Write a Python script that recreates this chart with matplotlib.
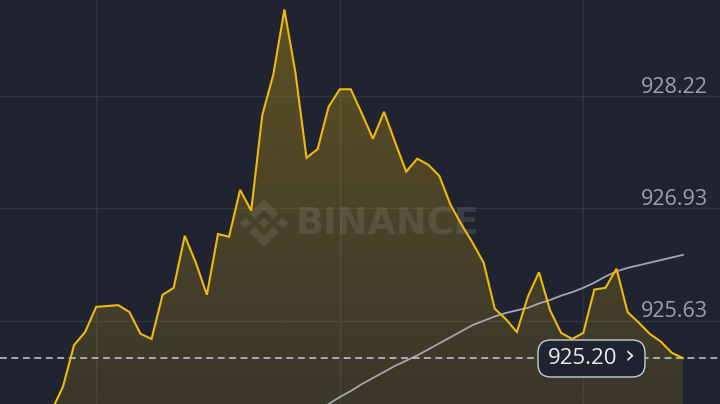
import numpy as np
import matplotlib
matplotlib.use("Agg")
from matplotlib import pyplot as plt
from matplotlib.patches import Polygon, FancyBboxPatch

# price series (one point per time step)
price = [
    924.60, 924.87, 925.35, 925.50, 925.79, 925.80, 925.81, 925.73, 925.48, 925.42,
    925.93, 926.01, 926.61, 926.30, 925.93, 926.63, 926.60, 927.14, 926.90, 928.00,
    928.47, 929.22, 928.49, 927.51, 927.61, 928.10, 928.30, 928.30, 928.02, 927.73,
    928.04, 927.69, 927.35, 927.50, 927.43, 927.30, 926.97, 926.74, 926.53, 926.30,
    925.77, 925.65, 925.50, 925.91, 926.19, 925.75, 925.49, 925.42, 925.49, 925.99,
    926.01, 926.23, 925.73, 925.61, 925.48, 925.39, 925.26, 925.20,
]
# moving average, starts at step 24
ma_start = 24
ma = [
    924.60, 924.67, 924.75, 924.82, 924.90, 924.97, 925.04, 925.11, 925.17, 925.23,
    925.30, 925.37, 925.44, 925.51, 925.58, 925.63, 925.68, 925.72, 925.75, 925.78,
    925.83, 925.87, 925.92, 925.96, 926.01, 926.07, 926.14, 926.20, 926.24, 926.27,
    926.30, 926.33, 926.36, 926.39,
]
y_ticks = [928.22, 926.93, 925.63]
x_grid = [4, 26, 48]
last_price = 925.20

BG = "#1f2430"
YELLOW = "#f0b90b"
GRID = "#2e3441"

W, H = 720, 404
fig = plt.figure(figsize=(W / 100, H / 100), dpi=100, facecolor=BG)
ax = fig.add_axes([0, 0, 1, 1])
ax.set_facecolor(BG)

x = np.arange(len(price))
y = np.array(price)
ymin, ymax = 924.67, 929.33

# grid
for v in y_ticks:
    ax.axhline(v, color=GRID, lw=1.0, zorder=1)
for g in x_grid:
    ax.axvline(g, color=GRID, lw=1.0, zorder=1)

# gradient fill under the price line
verts = [(x[0], ymin - 1)] + list(zip(x, y)) + [(x[-1], ymin - 1)]
clip = Polygon(verts, closed=True, facecolor="none", edgecolor="none")
ax.add_patch(clip)
rgba = np.zeros((256, 1, 4))
rgba[..., 0] = 0xf0 / 255
rgba[..., 1] = 0xb9 / 255
rgba[..., 2] = 0x0b / 255
rgba[..., 3] = np.linspace(0.30, 0.13, 256).reshape(-1, 1)
im = ax.imshow(rgba, extent=[x[0], x[-1], ymin, y.max()], origin="upper",
               aspect="auto", zorder=2, interpolation="bilinear")
im.set_clip_path(clip)
ax.set_xlim(-4.69, 60.35)
ax.set_ylim(ymin, ymax)

# watermark (pixel coords -> axes fraction)
def px(xp, yp):
    return xp / W, 1 - yp / H

logo_parts = [
    [(38.73, 53.2), (63.3, 28.63), (87.89, 53.22), (102.19, 38.92), (63.3, 0), (24.42, 38.9)],
    [(0, 63.31), (14.3, 49.01), (28.6, 63.31), (14.3, 77.61)],
    [(38.73, 73.41), (63.3, 97.99), (87.89, 73.4), (102.19, 87.69), (63.3, 126.61), (24.42, 87.71)],
    [(98.01, 63.31), (112.31, 49.01), (126.61, 63.31), (112.31, 77.61)],
    [(63.3, 48.76), (77.83, 63.3), (63.3, 77.83), (48.76, 63.3)],
]
s = 48 / 126.61
for part in logo_parts:
    pts = [px(240 + a * s, 199 + b * s) for a, b in part]
    ax.add_patch(Polygon(pts, closed=True, transform=ax.transAxes,
                         facecolor="#9a9a90", alpha=0.2, edgecolor="none", zorder=3))
ax.text(*px(296, 224), "BINANCE", transform=ax.transAxes, ha="left", va="center",
        fontsize=26.5, fontweight="bold", color="#9a9a90", alpha=0.2,
        family="DejaVu Sans", zorder=3)

# lines
ax.plot(x, y, color=YELLOW, lw=1.5, zorder=5, solid_joinstyle="miter")
ax.plot(np.arange(ma_start, ma_start + len(ma)), ma, color="#a3a7ae", lw=1.3, zorder=4)

# last price dashed line
ax.axhline(last_price, color="#c9ccd1", lw=1.1, ls=(0, (4.5, 3)), zorder=4)

# right side labels
for v in y_ticks:
    ax.annotate(f"{v:.2f}", xy=(1, v), xycoords=("axes fraction", "data"),
                xytext=(-8.6, 2.5), textcoords="offset points", ha="right",
                va="baseline", fontsize=15.5, color="#9ca1aa", family="Open Sans",
                zorder=6)

# last price tag
box = FancyBboxPatch(px(538, 377), 107 / W, 37 / H, transform=ax.transAxes,
                     boxstyle="round,pad=0,rounding_size=0.018",
                     facecolor=BG, edgecolor="#c9ccd1", lw=1.0, zorder=7,
                     mutation_aspect=W / H)
ax.add_patch(box)
ax.text(*px(548, 359), f"{last_price:.2f}", transform=ax.transAxes, ha="left",
        va="center", fontsize=16, color="#eaecef", family="Open Sans", zorder=8)
ax.text(*px(630, 357), "\u203a", transform=ax.transAxes, ha="center",
        va="center", fontsize=18, color="#eaecef", family="DejaVu Sans", zorder=8)

ax.axis("off")
fig.savefig("out.png", dpi=100, facecolor=BG)
plt.close(fig)
